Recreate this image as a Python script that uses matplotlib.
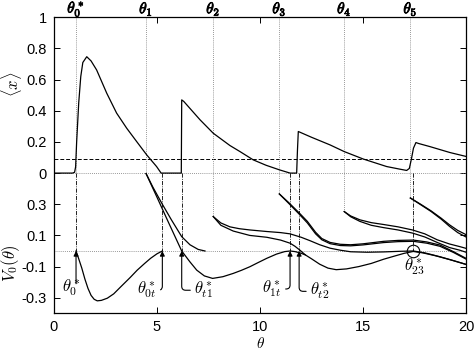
import matplotlib.pyplot as plt
import matplotlib.patheffects as pe

plt.rcParams['font.family'] = ['Liberation Sans', 'DejaVu Sans']
plt.rcParams['mathtext.fontset'] = 'cm'

# ---- top panel: <x>(theta) ----
th_mean = [0, 0.9, 1.0, 1.05, 1.1, 1.2, 1.3, 1.4, 1.59, 1.8, 2.07, 2.56, 3.04, 3.53,
           4.01, 4.5, 4.98, 5.2, 6.18, 6.2, 6.3, 7.09, 7.73, 8.54, 9.03, 9.67, 10.3,
           10.94, 11.46, 11.78, 11.82, 11.86, 12.5, 13.4, 14.09, 15.02, 16.15, 16.8,
           17.12, 17.25, 17.35, 17.45, 17.57, 17.7, 18.25, 19.22, 20]
mean_x = [0, 0, 0.005, 0.04, 0.2, 0.45, 0.62, 0.71, 0.747, 0.72, 0.662, 0.513, 0.385,
          0.288, 0.203, 0.117, 0.042, 0.0, 0.0, 0.47, 0.46, 0.342, 0.256, 0.177, 0.138,
          0.085, 0.05, 0.021, 0.0, 0.0, 0.15, 0.267, 0.23, 0.181, 0.138, 0.09, 0.042,
          0.025, 0.017, 0.03, 0.09, 0.16, 0.196, 0.19, 0.17, 0.132, 0.107]
x_thresh = 0.09

# ---- bottom panel: V0(theta) branches ----
thA = [1.07, 1.2, 1.35, 1.5, 1.65, 1.8, 1.95, 2.1, 2.3, 2.59, 2.9, 3.24, 3.7, 4.04,
       4.4, 4.69, 5.0, 5.26]
vA = [0, -0.05, -0.11, -0.18, -0.24, -0.285, -0.31, -0.32, -0.317, -0.303, -0.275,
      -0.23, -0.17, -0.123, -0.08, -0.047, -0.018, 0]

thB = [4.47, 4.8, 5.26, 5.7, 6.2, 6.6, 7.0, 7.33]
vB = [0.497, 0.41, 0.30, 0.2, 0.092, 0.04, 0.01, 0.0]

thC = [4.47, 5.0, 5.5, 6.2, 6.6, 6.93, 7.3, 7.7, 8.2, 8.7, 9.1, 9.51, 9.9, 10.33,
       10.8, 11.2, 11.46, 11.7, 11.94, 12.2]
vC = [0.497, 0.345, 0.2, 0.0, -0.07, -0.123, -0.16, -0.176, -0.165, -0.144, -0.124,
      -0.101, -0.075, -0.047, -0.02, -0.004, 0.0, -0.004, -0.012, -0.025]

thD = [7.73, 8.1, 8.54, 9.0, 9.51, 10.33, 11.0, 11.46, 12.0, 12.43, 12.9, 13.4, 13.9,
       14.4, 15.2, 16.0, 16.8, 17.44, 18.0, 18.74, 19.4, 20]
vD = [0.221, 0.18, 0.155, 0.143, 0.135, 0.125, 0.118, 0.11, 0.088, 0.066, 0.04, 0.018,
      0.005, -0.005, -0.008, -0.006, -0.002, 0.0, -0.012, -0.037, -0.062, -0.086]

thE = [7.73, 8.1, 8.7, 9.5, 10.33, 11.0, 11.46, 11.7, 11.94, 12.2, 12.5, 12.9, 13.3,
       13.7, 14.2, 14.8, 15.4, 16.0, 16.6, 17.0, 17.44, 17.9, 18.5, 19.2, 20]
vE = [0.221, 0.165, 0.128, 0.1, 0.088, 0.07, 0.05, 0.03, 0.005, -0.025, -0.05, -0.085,
      -0.11, -0.12, -0.115, -0.1, -0.08, -0.053, -0.03, -0.015, -0.003, -0.012, -0.03,
      -0.055, -0.086]

thF = [10.94, 11.4, 11.9, 12.3, 12.7, 13.0, 13.4, 13.9, 14.4, 15.0, 16.0, 16.7, 17.44,
       18.1, 18.74, 19.4, 20]
vF = [0.366, 0.31, 0.245, 0.19, 0.12, 0.08, 0.055, 0.043, 0.04, 0.046, 0.062, 0.068,
      0.07, 0.058, 0.038, -0.005, -0.047]
vG = [0.366, 0.305, 0.237, 0.18, 0.11, 0.072, 0.047, 0.035, 0.033, 0.039, 0.054, 0.06,
      0.062, 0.05, 0.03, -0.01, -0.052]

thH = [14.09, 14.4, 14.85, 15.4, 16.0, 16.7, 17.4, 18.0, 18.6, 19.2, 19.7, 20]
vH = [0.253, 0.225, 0.2, 0.182, 0.17, 0.155, 0.135, 0.11, 0.072, 0.045, 0.028, 0.017]
vI = [0.253, 0.22, 0.19, 0.165, 0.15, 0.135, 0.115, 0.09, 0.055, 0.022, 0.005, -0.008]

thJ = [17.3, 17.8, 18.3, 18.8, 19.2, 19.6, 20]
vJ = [0.34, 0.3, 0.258, 0.21, 0.168, 0.132, 0.105]
vK = [0.34, 0.297, 0.254, 0.204, 0.158, 0.118, 0.09]

# thresholds marked on top
theta_top = [1.07, 4.47, 7.73, 10.94, 14.09, 17.3]
top_names = [r'$\theta_0^*$', r'$\theta_1$', r'$\theta_2$', r'$\theta_3$', r'$\theta_4$', r'$\theta_5$']
top_end_V = [0.5, 0.5, 0.221, 0.366, 0.253, 0.34]   # where the dotted guide stops

# special points on V0 = 0
theta_star = [1.07, 5.26, 6.2, 11.46, 11.9, 17.42]
star_names = [r'$\theta_0^*$', r'$\theta_{0t}^*$', r'$\theta_{t1}^*$',
              r'$\theta_{1t}^*$', r'$\theta_{t2}^*$', r'$\theta_{23}^*$']
star_label_th = [0.86, 4.5, 7.28, 10.57, 12.91, 17.52]
star_label_V = [-0.24, -0.252, -0.252, -0.244, -0.259, -0.103]

yt_top = [1, 0.8, 0.6, 0.4, 0.2, 0]
yt_V = [0.3, 0.1, -0.1, -0.3]

OFF = 0.5  # V0 is drawn shifted down by this amount


def low(v):
    return [a - OFF for a in v]


fig = plt.figure(figsize=(4.74, 3.51), dpi=100)
ax = fig.add_axes([0.1139, 0.1074, 0.8692, 0.8433])

grey = '#777777'
# guide lines
ax.axhline(0, color=grey, lw=0.6, ls=(0, (1, 1.5)))
ax.axhline(-OFF, color=grey, lw=0.6, ls=(0, (1, 1.5)))
ax.axhline(x_thresh, color='k', lw=0.7, ls=(0, (4, 2)))
for t, e in zip(theta_top, top_end_V):
    ax.plot([t, t], [1, e - OFF], color=grey, lw=0.6, ls=(0, (1, 1.5)))
for t in theta_star:
    ax.plot([t, t], [0, -OFF], color='k', lw=0.6, ls=(0, (5, 1.5, 1, 1.5)))

# curves
ax.plot(th_mean, mean_x, color='k', lw=0.9)
for th, v in [(thA, vA), (thB, vB), (thC, vC), (thD, vD), (thE, vE), (thF, vF),
              (thF, vG), (thH, vH), (thH, vI), (thJ, vJ), (thJ, vK)]:
    ax.plot(th, low(v), color='k', lw=0.9)

# labels on top
for t, s in zip(theta_top, top_names):
    ax.annotate(s, (t, 1), xytext=(0, 6), textcoords='offset points',
                ha='center', va='center', fontsize=11, annotation_clip=False,
                path_effects=[pe.withStroke(linewidth=0.6, foreground='k')])

# arrows to the special points
ax.annotate('', xy=(theta_star[0], -OFF), xytext=(theta_star[0], -0.71),
            arrowprops=dict(arrowstyle='-|>', color='k', lw=0.8, mutation_scale=7,
                            shrinkA=0, shrinkB=0))
ax.text(star_label_th[0], star_label_V[0] - OFF, star_names[0], ha='center', va='center',
        fontsize=12)
for i in range(1, 5):
    ax.annotate(star_names[i], xy=(theta_star[i], -OFF),
                xytext=(star_label_th[i], star_label_V[i] - OFF),
                ha='center', va='center', fontsize=12,
                arrowprops=dict(arrowstyle='-|>', color='k', lw=0.8, mutation_scale=7,
                                connectionstyle='angle,angleA=0,angleB=90,rad=4',
                                shrinkA=1, shrinkB=0))
ax.plot([theta_star[5]], [-OFF], 'o', mfc='none', mec='k', ms=9, mew=0.8)
ax.text(star_label_th[5], star_label_V[5] - OFF, star_names[5], ha='center', va='center',
        fontsize=12)

ax.set_xlim(0, 20)
ax.set_ylim(-0.9, 1)
ax.set_xticks([0, 5, 10, 15, 20])
ax.set_yticks(yt_top + [v - OFF for v in yt_V])
ax.set_yticklabels([('%g' % v) for v in yt_top] + [('%g' % v) for v in yt_V])
ax.tick_params(direction='in', top=True, right=True, length=4, width=0.7,
               labelsize=10.5, pad=5)
for sp in ax.spines.values():
    sp.set_linewidth(0.9)

fig.text(0.549, 0.022, r'$\theta$', ha='center', va='center', fontsize=11)
fig.text(0.024, 0.76, r'$\langle x\rangle$', rotation=90, ha='center', va='center', fontsize=12)
fig.text(0.022, 0.25, r'$V_0(\theta)$', rotation=90, ha='center', va='center', fontsize=12)

fig.savefig('out.png', dpi=100)
